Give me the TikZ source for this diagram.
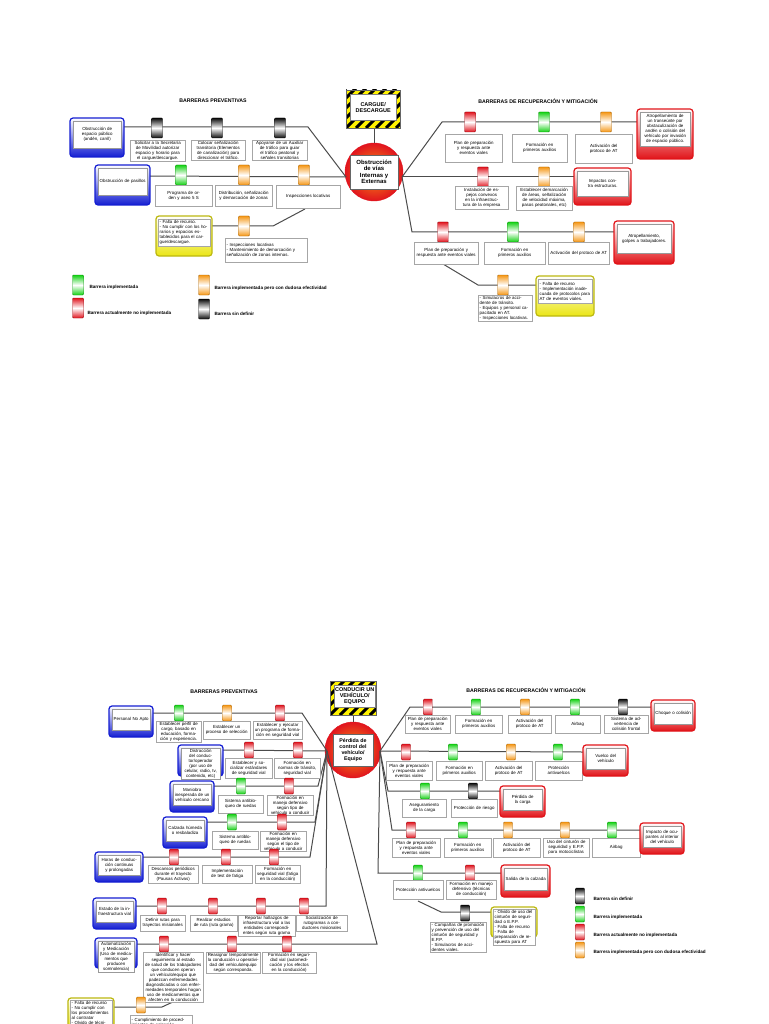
\documentclass[tikz,border=0pt]{standalone}
\usepackage{fontspec}
\setmainfont{Liberation Sans}
\begin{document}
\begin{tikzpicture}[x=1pt,y=-1pt,
  ln/.style={draw=black!70,line width=1pt},
  tbs/.style={draw=black!35,fill=white,inner sep=1pt,align=center,font=\fontsize{4.4}{5}\selectfont,anchor=north west},
  tbl/.style={tbs,align=left},
  barr/.style={rectangle,rounded corners=1pt,draw=#1!70!black,top color=#1,bottom color=#1,middle color=white,inner sep=0pt},
  ttl/.style={font=\bfseries\fontsize{5.2}{6}\selectfont},
  leg/.style={font=\bfseries\fontsize{4.6}{5}\selectfont,anchor=west}]
\definecolor{gbar}{RGB}{20,210,20}
\definecolor{rbar}{RGB}{225,20,30}
\definecolor{obar}{RGB}{245,150,20}
\definecolor{kbar}{RGB}{10,10,10}
\definecolor{cblue}{RGB}{20,30,210}
\definecolor{cred}{RGB}{225,20,25}
\definecolor{cyel}{RGB}{235,230,20}
\useasboundingbox (0,0) rectangle (768,1024);
\fill[white] (0,0) rectangle (768,1024);
% ---------- macros ----------
\newcommand\tb[6]{\pgfmathsetmacro\tw{#4-#2-3}\node[tbs,minimum width={(#4-#2)*1pt},minimum height={(#5-#3)*1pt},text width=\tw pt] (#1) at (#2,#3) {#6};}
\newcommand\tbL[6]{\pgfmathsetmacro\tw{#4-#2-3}\node[tbl,minimum width={(#4-#2)*1pt},minimum height={(#5-#3)*1pt},text width=\tw pt] (#1) at (#2,#3) {#6};}
\newcommand\bA[4]{\node[barr=#4,minimum width=11pt,minimum height=20pt] (#1) at (#2,#3) {};}
\newcommand\bB[4]{\node[barr=#4,minimum width=9pt,minimum height=16pt] (#1) at (#2,#3) {};}
\newcommand\cz[7]{\draw[rounded corners=3pt,draw=#6,line width=1.2pt,top color=white,middle color=white,bottom color=#6] (#2,#3) rectangle (#4,#5);
  \pgfmathsetmacro\tw{#4-#2-8}\pgfmathsetmacro\th{(#5-#3)*0.68}
  \node[tbs,draw=black!40,minimum width={(#4-#2-6)*1pt},minimum height=\th pt,text width=\tw pt] (#1) at ({#2+3},{#3+3}) {#7};}
\newcommand\hz[6]{\begin{scope}\clip (#2,#3) rectangle (#4,#5);\fill[yellow] (#2,#3) rectangle (#4,#5);
  \foreach \k in {-60,-50,...,70}{\draw[line width=3pt] ({#2+\k},{#5}) -- ++(45,-45);}\end{scope}
  \draw[black!60] (#2,#3) rectangle (#4,#5);
  \node[fill=white,draw=black!50,inner sep=1pt,align=center,font=\bfseries\fontsize{5.5}{6}\selectfont,minimum width={(#4-#2-8)*1pt},minimum height={(#5-#3-12)*1pt},anchor=north west] (#1) at ({#2+4},{#3+4}) {#6};}
% =================== TOP DIAGRAM ===================
\node[ttl] (t1) at (213,101) {BARRERAS PREVENTIVAS};
\node[ttl] (t2) at (538,101) {BARRERAS DE RECUPERACI\'ON Y MITIGACI\'ON};
\node[circle,minimum size=58pt,inner color=obar,outer color=rbar,draw=rbar] (C1) at (374,172) {};
\coordinate (C1L) at (346,177); \coordinate (C1R) at (402,177);
% lines
\draw[ln] (124,127) -- (308,127) -- (C1L);
\draw[ln] (150,176) -- (C1L);
\draw[ln] (212,226) -- (273,226) -- (305,209);
\draw[ln] (374,128) -- (C1);
\draw[ln] (C1R) -- (442,122) -- (637,122);
\draw[ln] (C1R) -- (575,177);
\draw[ln] (C1R) -- (412,232) -- (614,232);
\draw[ln] (443,264) -- (478,285) -- (536,285);
\node[fill=white,draw=black!60,minimum width=48pt,minimum height=34pt,inner sep=1pt,align=center,font=\bfseries\fontsize{6}{6.5}\selectfont] (C1T) at (374,172) {Obstrucci\'on\\de v\'ias\\Internas y\\Externas};
\hz{H1}{346}{90}{400}{128}{CARGUE/\\DESCARGUE}
% causes
\cz{A1}{70}{118}{124}{157}{cblue}{Obstrucci\'on de espacio p\'ublico (and\'en, carril)}
\cz{A2}{95}{165}{150}{205}{cblue}{Obstrucci\'on de pasillos}
\draw[rounded corners=3pt,draw=cyel!80!black,line width=1.2pt,top color=white,middle color=white,bottom color=cyel] (156,216) rectangle (212,256);
\tbL{A3}{158}{219}{210}{246}{- Falta de recurso.\\- No cumplir con los horarios y espacios establecidos para el cargue/descargue.}
% barriers
\bA{a1}{157}{128}{kbar}\bA{a2}{217}{128}{kbar}\bA{a3}{280}{128}{kbar}
\bA{a4}{181}{175}{gbar}\bA{a5}{244}{175}{obar}\bA{a6}{304}{175}{obar}
\bA{a7}{244}{226}{obar}
\tb{x1}{130}{140}{185}{160}{Solicitar a la Secretar\'ia de Movilidad autorizar espacio y horario para el cargue/descargue.}
\tb{x2}{191}{140}{245}{160}{Colocar se\~nalizaci\'on transitoria (Elementos de canalizaci\'on) para direccionar el tr\'afico.}
\tb{x3}{252}{140}{307}{160}{Apoyarse de un Auxiliar de tr\'afico para guiar el tr\'afico peatonal y se\~nales transitorias}
\tb{x4}{155}{185}{212}{206}{Programa de orden y aseo 5 S}
\tb{x5}{215}{185}{272}{206}{Distribuci\'on, se\~nalizaci\'on y demarcaci\'on de zonas}
\tb{x6}{276}{185}{340}{208}{Inspecciones locativas}
\tbL{x7}{225}{238}{307}{262}{- Inspecciones locativas\\- Mantenimiento de demarcaci\'on y se\~nalizaci\'on de zonas internas.}
% right
\bA{r1}{470}{122}{rbar}\bA{r2}{544}{122}{gbar}\bA{r3}{606}{122}{obar}
\tb{y1}{445}{134}{502}{162}{Plan de preparaci\'on y respuesta ante eventos viales}
\tb{y2}{512}{134}{567}{162}{Formaci\'on en primeros auxilios}
\tb{y3}{575}{134}{632}{163}{Activaci\'on del protoco de AT}
\cz{E1}{637}{109}{693}{159}{cred}{Atropellamiento de un transe\'unte por obstaculizaci\'on de and\'en o colisi\'on del veh\'iculo por invasi\'on de espacio p\'ublico.}
\bA{r4}{483}{177}{rbar}\bA{r5}{544}{177}{obar}
\tb{y4}{455}{186}{508}{209}{Instalaci\'on de espejos convexos en la infraestructura de la empresa}
\tb{y5}{516}{186}{572}{210}{Establecer demarcaci\'on de \'areas, se\~nalizaci\'on de velocidad m\'axima, pasos peatonales, etc)}
\cz{E2}{574}{168}{631}{205}{cred}{Impactos contra estructuras.}
\bA{r6}{443}{232}{rbar}\bA{r7}{513}{232}{gbar}\bA{r8}{579}{232}{obar}
\tb{y6}{414}{242}{478}{264}{Plan de preparaci\'on y respuesta ante eventos viales}
\tb{y7}{484}{242}{545}{264}{Formaci\'on en primeros auxilios}
\tb{y8}{548}{242}{609}{264}{Activaci\'on del protoco de AT}
\cz{E3}{614}{221}{674}{264}{cred}{Atropellamiento, golpes a trabajadores.}
\bA{r9}{503}{285}{obar}
\tbL{y9}{478}{295}{532}{318}{- Simulacros de accidente de tr\'ansito.\\- Equipos y personal capacitado en AT.\\- Inspecciones locativas.}
\draw[rounded corners=3pt,draw=cyel!80!black,line width=1.2pt,top color=white,middle color=white,bottom color=cyel] (536,276) rectangle (594,316);
\tbL{y10}{538}{279}{592}{303}{- Falta de recurso\\- Implementaci\'on inadecuada de protocolos para AT de eventos viales.}
% legend
\bA{l1}{78}{285}{gbar}\node[leg] (l1t) at (86,287) {Barrera implementada};
\bA{l2}{78}{308}{rbar}\node[leg] (l2t) at (84,313) {Barrera actualmente no implementada};
\bA{l3}{204}{285}{obar}\node[leg] (l3t) at (211,288) {Barrera implementada pero con dudosa efectividad};
\bA{l4}{204}{309}{kbar}\node[leg] (l4t) at (211,314) {Barrera sin definir};
% =================== BOTTOM DIAGRAM ===================
\node[ttl] (t3) at (224,692) {BARRERAS PREVENTIVAS};
\node[ttl] (t4) at (526,690) {BARRERAS DE RECUPERACI\'ON Y MITIGACI\'ON};
\node[circle,minimum size=56pt,inner color=obar,outer color=rbar,draw=rbar] (C2) at (353,750) {};
\coordinate (C2L) at (327,751); \coordinate (C2R) at (380,751);
\draw[ln] (353,715) -- (C2);
\draw[ln] (153,713) -- (302,713) -- (C2L);
\draw[ln] (223,750) -- (C2L);
\draw[ln] (214,786) -- (318,786) -- (C2L);
\draw[ln] (207,822) -- (315,822) -- (C2L);
\draw[ln] (143,857) -- (310,857) -- (C2L);
\draw[ln] (136,906) -- (326,906) -- (C2L);
\draw[ln] (137,944) -- (377,944) -- (C2L);
\draw[ln] (114,1007) -- (162,1007) -- (190,994);
\draw[ln] (C2R) -- (410,707) -- (651,707);
\draw[ln] (C2R) -- (583,752);
\draw[ln] (C2R) -- (388,791) -- (500,791);
\draw[ln] (C2R) -- (392,830) -- (640,830);
\draw[ln] (C2R) -- (378,873) -- (501,873);
\draw[ln] (418,901) -- (441,912) -- (491,912);
\node[fill=white,draw=black!60,minimum width=40pt,minimum height=32pt,inner sep=1pt,align=center,font=\bfseries\fontsize{5.3}{5.8}\selectfont] (C2T) at (353,750) {P\'erdida de\\control del\\veh\'iculo/\\Equipo};
\hz{H2}{330}{681}{376}{715}{CONDUCIR UN\\VEH\'ICULO/\\EQUIPO}
% causes
\cz{B1}{109}{706}{153}{737}{cblue}{Personal No Apto}
\cz{B2}{178}{745}{223}{776}{cblue}{Distracci\'on del conductor/operador (por uso de celular, radio, tv, contenido, etc)}
\cz{B3}{170}{781}{214}{812}{cblue}{Maniobra inesperada de un veh\'iculo cercano}
\cz{B4}{163}{817}{207}{848}{cblue}{Calzada h\'umeda o resbaladiza}
\cz{B5}{95}{852}{143}{882}{cblue}{Horas de conducci\'on continuas y prolongadas}
\cz{B6}{93}{898}{136}{929}{cblue}{Estado de la infraestructura vial}
\cz{B7}{95}{938}{137}{968}{cblue}{Automatizaci\'on y Medicaci\'on (Uso de medicamentos que producen somnolencia)}
\draw[rounded corners=3pt,draw=cyel!80!black,line width=1.2pt,top color=white,middle color=white,bottom color=cyel] (68,998) rectangle (114,1030);
\tbL{B8}{70}{1000}{112}{1020}{- Falta de recurso\\- No cumplir con los procedimientos al contratar\\- Olvido de t\'ecnicas de conducci\'on}
% barriers left
\bB{b1}{179}{713}{gbar}\bB{b2}{227}{713}{obar}\bB{b3}{280}{713}{rbar}
\tb{z1}{156}{721}{201}{739}{Establecer perfil de cargo, basado en educaci\'on, formaci\'on y experiencia.}
\tb{z2}{203}{721}{250}{739}{Establecer un proceso de selecci\'on}
\tb{z3}{253}{721}{302}{739}{Establecer y ejecutar un programa de formaci\'on en seguridad vial}
\bB{b4}{249}{750}{rbar}\bB{b5}{298}{750}{rbar}
\tb{z4}{225}{758}{272}{778}{Establecer y socializar est\'andares de seguridad vial}
\tb{z5}{274}{758}{320}{778}{Formaci\'on en normas de tr\'ansito, seguridad vial}
\bB{b6}{241}{786}{gbar}\bB{b7}{289}{786}{rbar}
\tb{z6}{218}{795}{263}{813}{Sistema antibloqueo de ruedas}
\tb{z7}{267}{795}{313}{813}{Formaci\'on en manejo defensivo seg\'un tipo de veh\'iculo a conducir}
\bB{b8}{232}{822}{gbar}\bB{b9}{282}{822}{rbar}
\tb{z8}{212}{831}{258}{849}{Sistema antibloqueo de ruedas}
\tb{z9}{260}{831}{306}{849}{Formaci\'on en manejo defensivo seg\'un el tipo de veh\'iculo a conducir}
\bB{b10}{174}{857}{rbar}\bB{b11}{226}{857}{rbar}\bB{b12}{274}{857}{rbar}
\tb{z10}{148}{865}{198}{883}{Descansos peri\'odicos durante el trayecto (Pausas Activas)}
\tb{z11}{202}{865}{252}{883}{Implementaci\'on de test de fatiga}
\tb{z12}{255}{865}{300}{883}{Formaci\'on en seguridad vial (fatiga en la conducci\'on)}
\bB{b13}{162}{906}{rbar}\bB{b14}{213}{906}{rbar}\bB{b15}{261}{906}{rbar}\bB{b16}{304}{906}{rbar}
\tb{z13}{140}{915}{185}{931}{Definir rutas para trayectos misionales}
\tb{z14}{190}{915}{237}{931}{Realizar estudios de ruta (ruta grama)}
\tb{z15}{238}{915}{295}{931}{Reportar hallazgos de infraestructura vial a las entidades correspondientes seg\'un ruta grama}
\tb{z16}{296}{915}{347}{931}{Socializaci\'on de rutogramas a conductores misionales}
\bB{b17}{164}{944}{rbar}\bB{b18}{232}{944}{rbar}\bB{b19}{287}{944}{rbar}
\tb{z17}{143}{952}{203}{993}{Identificar y hacer seguimiento al estado de salud de los trabajadores que conducen operan un veh\'iculo/equipo que padezcan enfermedades diagnosticadas o con enfermedades temporales hagan uso de medicamentos que afecten en la conducci\'on}
\tb{z18}{206}{952}{260}{970}{Reasignar temporalmente la conducci\'on u operatividad del veh\'iculo/equipo seg\'un corresponda.}
\tb{z19}{262}{952}{316}{970}{Formaci\'on en seguridad vial (automedicaci\'on y los efectos en la conducci\'on)}
\bB{b20}{141}{1005}{obar}
\tbL{z20}{130}{1015}{192}{1030}{- Cumplimiento de procedimientos de selecci\'on}
% right
\bB{s1}{428}{707}{rbar}\bB{s2}{476}{707}{gbar}\bB{s3}{525}{707}{obar}\bB{s4}{575}{707}{gbar}\bB{s5}{623}{707}{kbar}
\tb{w1}{405}{715}{450}{733}{Plan de preparaci\'on y respuesta ante eventos viales}
\tb{w2}{455}{715}{502}{733}{Formaci\'on en primeros auxilios}
\tb{w3}{508}{715}{551}{733}{Activaci\'on del protoco de AT}
\tb{w4}{555}{715}{600}{733}{Airbag}
\tb{w5}{604}{715}{648}{733}{Sistema de advertencia de colisi\'on frontal}
\cz{D1}{651}{700}{695}{731}{cred}{Choque o colisi\'on}
\bB{s6}{406}{752}{rbar}\bB{s7}{453}{752}{gbar}\bB{s8}{511}{752}{obar}\bB{s9}{558}{752}{gbar}
\tb{w6}{386}{761}{432}{780}{Plan de preparaci\'on y respuesta ante eventos viales}
\tb{w7}{436}{761}{482}{780}{Formaci\'on en primeros auxilios}
\tb{w8}{485}{761}{532}{780}{Activaci\'on del protoco de AT}
\tb{w9}{535}{761}{582}{780}{Protecci\'on antivuelcos}
\cz{D2}{583}{745}{628}{776}{cred}{Vuelco del veh\'iculo}
\bB{s10}{425}{791}{gbar}\bB{s11}{473}{791}{kbar}
\tb{w10}{402}{799}{446}{817}{Aseguramiento de la carga}
\tb{w11}{451}{799}{497}{817}{Protecci\'on de riesgo}
\cz{D3}{500}{786}{545}{817}{cred}{P\'erdida de la carga}
\bB{s12}{411}{830}{rbar}\bB{s13}{463}{830}{gbar}\bB{s14}{508}{830}{obar}\bB{s15}{565}{830}{obar}\bB{s16}{612}{830}{gbar}
\tb{w12}{392}{838}{440}{857}{Plan de preparaci\'on y respuesta ante eventos viales}
\tb{w13}{444}{838}{491}{857}{Formaci\'on en primeros auxilios}
\tb{w14}{493}{838}{540}{857}{Activaci\'on del protoco de AT}
\tb{w15}{543}{838}{589}{857}{Uso del cintur\'on de seguridad y E.P.P. para motociclistas}
\tb{w16}{592}{838}{640}{857}{Airbag}
\cz{D4}{640}{823}{684}{854}{cred}{Impacto de ocupantes al interior del veh\'iculo}
\bB{s17}{418}{873}{gbar}\bB{s18}{470}{873}{rbar}
\tb{w17}{393}{880}{443}{899}{Protecci\'on antivuelcos}
\tb{w18}{446}{880}{496}{899}{Formaci\'on en manejo defensivo (t\'ecnicas de conducci\'on)}
\cz{D5}{501}{865}{550}{897}{cred}{Salida de la calzada}
\bB{s19}{465}{913}{kbar}
\tbL{w19}{430}{922}{486}{945}{- Campa\~nas de promoci\'on y prevenci\'on de uso del cintur\'on de seguridad y E.P.P.\\- Simulacros de accidentes viales.}
\draw[rounded corners=3pt,draw=cyel!80!black,line width=1.2pt,top color=white,middle color=white,bottom color=cyel] (491,907) rectangle (537,937);
\tbL{w20}{493}{909}{535}{928}{- Olvido de uso del cintur\'on de seguridad o E.P.P.\\- Falta de recurso\\- Falta de preparaci\'on de respuesta para AT}
% legend bottom
\bB{m1}{580}{896}{kbar}\node[leg] (m1t) at (590,899) {Barrera sin definir};
\bB{m2}{580}{914}{gbar}\node[leg] (m2t) at (590,917) {Barrera implementada};
\bB{m3}{580}{932}{rbar}\node[leg] (m3t) at (590,935) {Barrera actualmente no implementada};
\bB{m4}{580}{950}{obar}\node[leg] (m4t) at (590,952) {Barrera implementada pero con dudosa efectividad};
\end{tikzpicture}
\end{document}
